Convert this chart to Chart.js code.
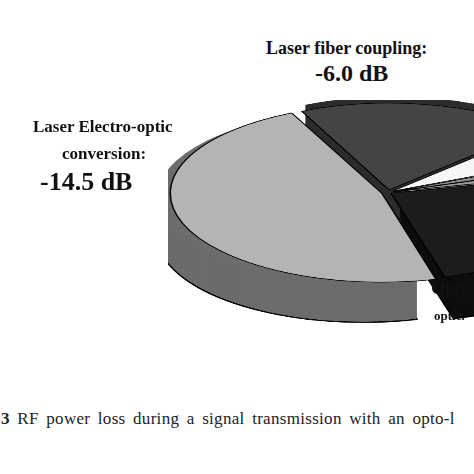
<!DOCTYPE html>
<html><head><meta charset="utf-8">
<script src="https://cdn.jsdelivr.net/npm/chart.js@4"></script>
<style>
body{margin:0;width:474px;height:474px;overflow:hidden;background:#fff;position:relative;font-family:"Liberation Serif",serif;}
#wrap{position:absolute;left:168px;top:100px;width:440px;height:540px;transform:scaleY(0.42);transform-origin:0 0;}
.t{position:absolute;font-weight:bold;color:#111;white-space:nowrap;}
</style></head><body>
<div id="wrap"><canvas id="c" width="440" height="540"></canvas></div>
<div class="t" style="left:266px;top:38px;font-size:18px;">Laser fiber coupling:</div>
<div class="t" style="left:315px;top:60px;font-size:24px;">-6.0 dB</div>
<div class="t" style="left:33px;top:117px;font-size:17px;">Laser Electro-optic</div>
<div class="t" style="left:62px;top:144px;font-size:17px;">conversion:</div>
<div class="t" style="left:40px;top:167px;font-size:26px;">-14.5 dB</div>
<div class="t" style="left:431px;top:278px;font-size:18px;">Optic</div>
<div class="t" style="left:434px;top:308px;font-size:13px;">optic.</div>
<div style="position:absolute;left:1px;top:409px;font-size:17px;word-spacing:3px;letter-spacing:0.3px;white-space:nowrap;color:#222;"><b>3</b> RF power loss during a signal transmission with an opto-l</div>
<script>
const labels=["Laser fiber coupling","Other 1","Other 2","Other 3","Optic","Laser Electro-optic conversion"];
const values=[6.0,1.8,0.45,0.45,7.5,14.5];
const topColors=["#444444","#f6f6f6","#8c8c8c","#9a9a9a","#1c1c1c","#b4b4b4"];
const sideColors=["#2c2c2c","#d0d0d0","#6a6a6a","#707070","#0e0e0e","#6c6c6c"];
const offsets=[24,22,22,22,14,26];
const depth={id:'depth',beforeDatasetsDraw(chart){
  const ctx=chart.ctx,meta=chart.getDatasetMeta(0),D=95;
  for(let d=D;d>=1;d-=1.5){
    meta.data.forEach((arc,i)=>{
      const p=arc.getProps(['x','y','startAngle','endAngle','outerRadius'],true);
      const off=arc.options.offset||0,mid=(p.startAngle+p.endAngle)/2;
      const cx=p.x+Math.cos(mid)*off,cy=p.y+Math.sin(mid)*off+d;
      ctx.beginPath();ctx.moveTo(cx,cy);ctx.arc(cx,cy,p.outerRadius,p.startAngle,p.endAngle);ctx.closePath();
      ctx.fillStyle=sideColors[i];ctx.fill();
      if(d>=D-1.5){ctx.strokeStyle='#000';ctx.lineWidth=1.5;ctx.stroke();}
    });
  }
}};
new Chart(document.getElementById('c'),{type:'pie',
 data:{labels,datasets:[{data:values,backgroundColor:topColors,borderColor:'#000',borderWidth:1.5,offset:offsets}]},
 options:{responsive:false,animation:false,rotation:-25,layout:{padding:{bottom:100}},
  plugins:{legend:{display:false},tooltip:{enabled:false}}},
 plugins:[depth]});
</script></body></html>
